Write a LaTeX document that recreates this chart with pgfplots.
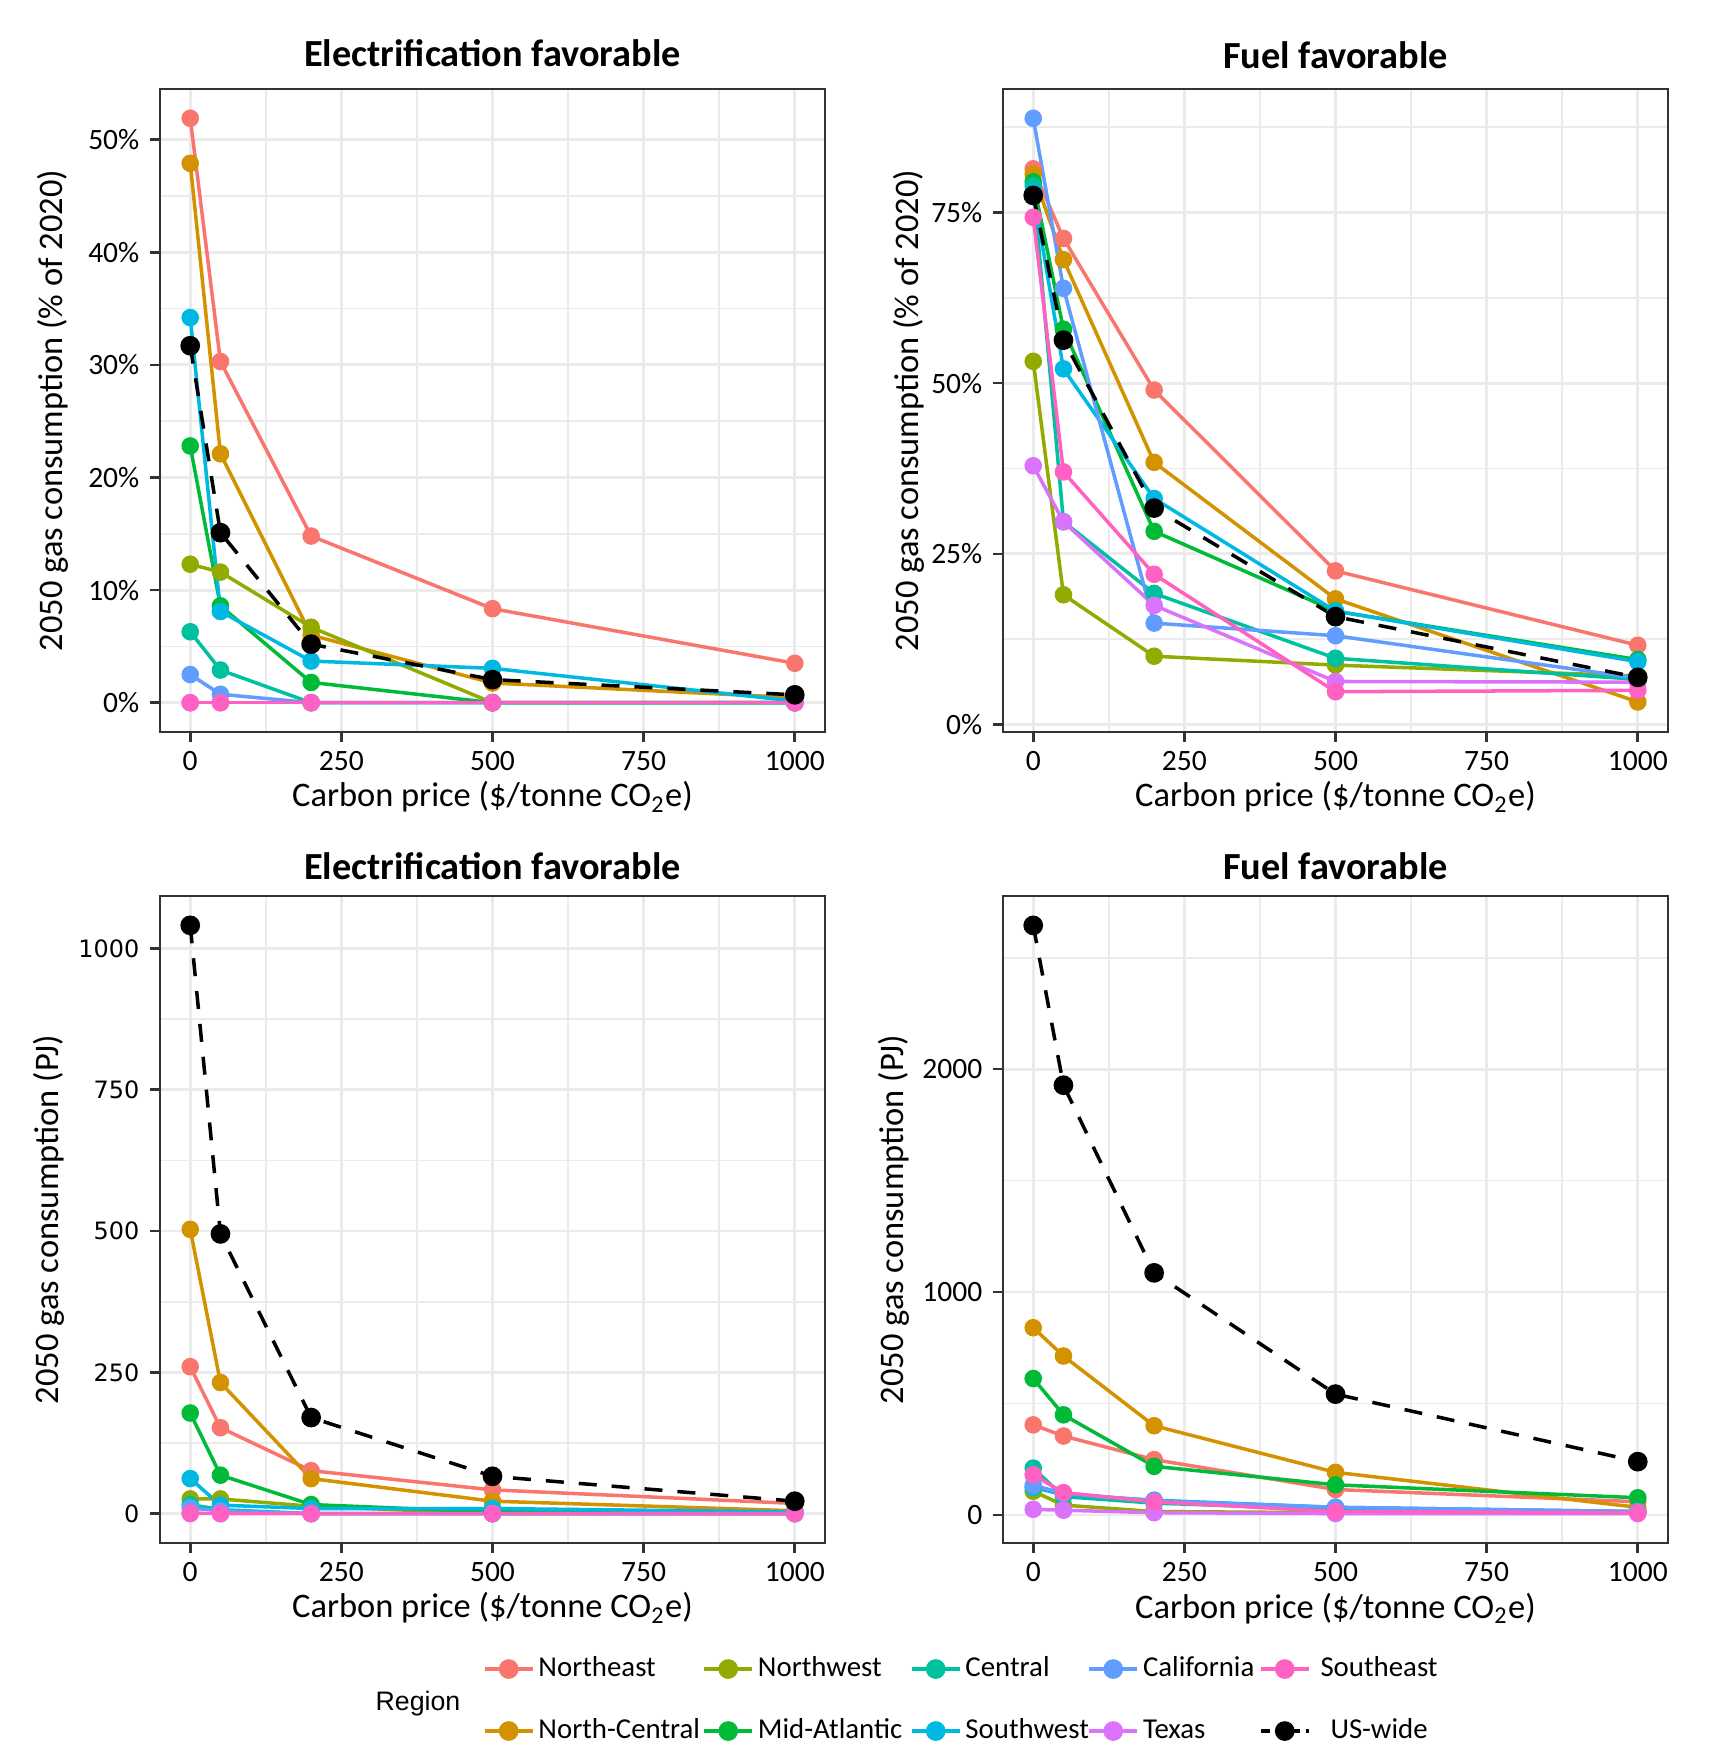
\documentclass[border=0pt]{standalone}
\usepackage{fontspec}
\setmainfont{Carlito}
\newfontfamily\arialfont{Liberation Sans}
\newfontfamily\dejavufont{DejaVu Sans}
\usepackage{pgfplots}
\pgfplotsset{compat=1.18}
\usepackage{pgfplotstable}

\definecolor{cNE}{HTML}{F8766D}
\definecolor{cNC}{HTML}{D39200}
\definecolor{cNW}{HTML}{93AA00}
\definecolor{cMA}{HTML}{00BA38}
\definecolor{cCE}{HTML}{00C19F}
\definecolor{cSW}{HTML}{00B9E3}
\definecolor{cCA}{HTML}{619CFF}
\definecolor{cTX}{HTML}{DB72FB}
\definecolor{cSE}{HTML}{FF61C3}
\definecolor{gray20}{HTML}{333333}
\definecolor{gray92}{HTML}{EBEBEB}

% Electrification favorable, % of 2020
\pgfplotstableread{
x    NE    NC    NW    MA    CE   SW    CA    TX  SE  US
0    51.9  47.9  12.3  22.8  6.3  34.2  2.5   0   0   31.7
50   30.3  22.1  11.6  8.6   2.9  8.1   0.75  0   0   15.1
200  14.8  6.0   6.7   1.8   0    3.7   0     0   0   5.2
500  8.35  1.75  0     0     0    3.05  0     0   0   2.05
1000 3.5   0.45  0     0     0    0.15  0     0   0   0.7
}\tabA

% Fuel favorable, % of 2020
\pgfplotstableread{
x    NE    NC    NW    MA    CE    SW    CA    TX    SE    US
0    81.4  80.6  53.2  79.5  78.9  78.0  88.8  37.9  74.3  77.5
50   71.2  68.1  19.0  57.9  29.7  52.1  63.9  29.7  37.0  56.3
200  49.0  38.4  10.0  28.3  19.2  33.1  14.85 17.45 22.0  31.7
500  22.5  18.4  8.7   16.6  9.7   16.6  13.0  6.3   4.8   15.8
1000 11.6  3.3   7.1   9.5   6.6   9.2   6.8   6.2   5.0   6.9
}\tabB

% Electrification favorable, PJ
\pgfplotstableread{
x    NE   NC   NW  MA   CE  SW  CA  TX  SE  US
0    260  503  26  178  16  62  10  0   1   1041
50   152  232  26  68   7   15  5   0   0   495
200  76   62   13  16   0   9   0   0   0   170
500  42   22   0   3    0   9   0   0   0   66
1000 18   5    0   2    0   3   0   0   0   22
}\tabC

% Fuel favorable, PJ
\pgfplotstableread{
x    NE   NC   NW   MA   CE   SW   CA   TX  SE   US
0    404  840  106  612  210  123  133  25  180  2645
50   354  713  44   449  82   91   97   21  100  1928
200  248  400  15   218  53   66   63   10  59   1086
500  114  191  10   135  25   34   34   6   15   542
1000 59   34   10   77   15   15   15   6   10   239
}\tabD

\pgfplotsset{
  panel/.style={
    scale only axis, width=6.65cm,
    xmin=-50, xmax=1050,
    xtick={0,250,500,750,1000}, xticklabels={0,250,500,750,1000},
    minor xtick={125,375,625,875},
    grid=both,
    major grid style={draw=gray92, line width=0.8pt},
    minor grid style={draw=gray92, line width=0.45pt},
    axis line style={draw=gray20, line width=0.75pt},
    tick align=outside, tickpos=left,
    major tick length=1mm, minor tick length=0pt,
    major tick style={draw=gray20, line width=0.75pt},
    ticklabel style={font=\fontsize{8.4}{10}\selectfont, text=black},
    xticklabel style={anchor=north, inner sep=0pt, yshift=-0.9mm},
    yticklabel style={anchor=east, inner sep=0pt, xshift=-1mm},
    xlabel={Carbon price (\$/tonne CO\textsubscript{2}e)},
    label style={font=\fontsize{9.8}{12}\selectfont},
    xlabel style={at={(axis description cs:0.5,0)}, anchor=base, yshift=-7.5mm},
    title style={at={(axis description cs:0.5,1)}, anchor=base,
      font=\bfseries\fontsize{10.9}{13}\selectfont},
    clip=true,
  },
  lineS/.style={line width=1pt, no marks, forget plot},
  markS/.style={only marks, mark=*, mark size=2.3pt, forget plot},
  usS/.style={black, line width=1pt, dash pattern=on 1.8mm off 1.5mm,
    mark=*, mark size=2.3pt, mark options={solid}, forget plot},
}

\newcommand\drawpanel[1]{%
  \addplot[lineS, cNE] table[x=x,y=NE]{#1};
  \addplot[lineS, cNC] table[x=x,y=NC]{#1};
  \addplot[lineS, cNW] table[x=x,y=NW]{#1};
  \addplot[lineS, cMA] table[x=x,y=MA]{#1};
  \addplot[lineS, cCE] table[x=x,y=CE]{#1};
  \addplot[lineS, cSW] table[x=x,y=SW]{#1};
  \addplot[lineS, cCA] table[x=x,y=CA]{#1};
  \addplot[lineS, cTX] table[x=x,y=TX]{#1};
  \addplot[lineS, cSE] table[x=x,y=SE]{#1};
  \addplot[markS, cNE] table[x=x,y=NE]{#1};
  \addplot[markS, cNC] table[x=x,y=NC]{#1};
  \addplot[markS, cNW] table[x=x,y=NW]{#1};
  \addplot[markS, cMA] table[x=x,y=MA]{#1};
  \addplot[markS, cCE] table[x=x,y=CE]{#1};
  \addplot[markS, cSW] table[x=x,y=SW]{#1};
  \addplot[markS, cCA] table[x=x,y=CA]{#1};
  \addplot[markS, cTX] table[x=x,y=TX]{#1};
  \addplot[markS, cSE] table[x=x,y=SE]{#1};
  \addplot[usS] table[x=x,y=US]{#1};
}
\newcommand\leg[2]{\makebox[#1][l]{\hspace{0.4mm}#2}}

\begin{document}
\begin{tikzpicture}
\path[use as bounding box] (0,0) rectangle (17.25cm,17.52cm);

% Top-left
\begin{axis}[panel, at={(1.60cm,10.20cm)}, anchor=south west, height=6.43cm,
  ymin=-2.6, ymax=54.5,
  ytick={0,10,20,30,40,50}, yticklabels={0\%,10\%,20\%,30\%,40\%,50\%},
  minor ytick={5,15,25,35,45},
  title={Electrification favorable},
  title style={yshift=0.1mm},
  ylabel={2050 gas consumption (\% of 2020)},
  ylabel style={at={(axis description cs:-0.147,0.5)}, anchor=base},
]
\drawpanel{\tabA}
\end{axis}

% Top-right
\begin{axis}[panel, at={(10.03cm,10.20cm)}, anchor=south west, height=6.43cm,
  ymin=-1.1, ymax=93.1,
  ytick={0,25,50,75}, yticklabels={0\%,25\%,50\%,75\%},
  minor ytick={12.5,37.5,62.5,87.5},
  title={Fuel favorable},
  title style={yshift=-0.1mm},
  ylabel={2050 gas consumption (\% of 2020)},
  ylabel style={at={(axis description cs:-0.127,0.5)}, anchor=base},
]
\drawpanel{\tabB}
\end{axis}

% Bottom-left
\begin{axis}[panel, at={(1.60cm,2.09cm)}, anchor=south west, height=6.47cm,
  ymin=-52, ymax=1093,
  ytick={0,250,500,750,1000}, yticklabels={0,250,500,750,1000},
  minor ytick={125,375,625,875},
  yticklabel style={font=\dejavufont\fontsize{6.8}{8}\selectfont},
  title={Electrification favorable},
  title style={yshift=-0.5mm},
  ylabel={2050 gas consumption (PJ)},
  ylabel style={at={(axis description cs:-0.153,0.5)}, anchor=base},
]
\drawpanel{\tabC}
\end{axis}

% Bottom-right
\begin{axis}[panel, at={(10.03cm,2.09cm)}, anchor=south west, height=6.47cm,
  ymin=-126, ymax=2777,
  ytick={0,1000,2000}, yticklabels={0,1000,2000},
  minor ytick={500,1500,2500},
  title={Fuel favorable},
  title style={yshift=-0.5mm},
  ylabel={2050 gas consumption (PJ)},
  ylabel style={at={(axis description cs:-0.150,0.5)}, anchor=base},
  legend columns=5,
  legend style={at={(-0.7831,-0.2427)}, anchor=west, draw=none, fill=none,
    inner sep=0pt, row sep=3.5mm,
    font=\fontsize{8.2}{10}\selectfont,
    nodes={inner sep=0pt, text height=2.1mm, text depth=0.6mm}},
  legend image code/.code={\draw[mark repeat=2, mark phase=2]
    plot coordinates {(0mm,0mm) (2.4mm,0mm) (4.8mm,0mm)};},
]
\drawpanel{\tabD}
\addlegendimage{cNE, line width=1pt, mark=*, mark size=2.3pt}
\addlegendentry{\leg{16.8mm}{Northeast}}
\addlegendimage{cNW, line width=1pt, mark=*, mark size=2.3pt}
\addlegendentry{\leg{15.6mm}{Northwest}}
\addlegendimage{cCE, line width=1pt, mark=*, mark size=2.3pt}
\addlegendentry{\leg{12.6mm}{Central}}
\addlegendimage{cCA, line width=1pt, mark=*, mark size=2.3pt}
\addlegendentry{\leg{12.0mm}{California}}
\addlegendimage{cSE, line width=1pt, mark=*, mark size=2.3pt}
\addlegendentry{\hspace{1mm}Southeast}
\addlegendimage{cNC, line width=1pt, mark=*, mark size=2.3pt}
\addlegendentry{\leg{16.8mm}{North-Central}}
\addlegendimage{cMA, line width=1pt, mark=*, mark size=2.3pt}
\addlegendentry{\leg{15.6mm}{Mid-Atlantic}}
\addlegendimage{cSW, line width=1pt, mark=*, mark size=2.3pt}
\addlegendentry{\leg{12.6mm}{Southwest}}
\addlegendimage{cTX, line width=1pt, mark=*, mark size=2.3pt}
\addlegendentry{\leg{12.0mm}{Texas}}
\addlegendimage{black, line width=1pt, dash pattern=on 0.9mm off 0.6mm, mark=*, mark size=2.3pt, mark options={solid}}
\addlegendentry{\hspace{1mm}US-wide}
\end{axis}

\node[font=\arialfont\fontsize{7.6}{9}\selectfont, inner sep=0pt] at (4.18cm,0.485cm) {Region};
\end{tikzpicture}
\end{document}
